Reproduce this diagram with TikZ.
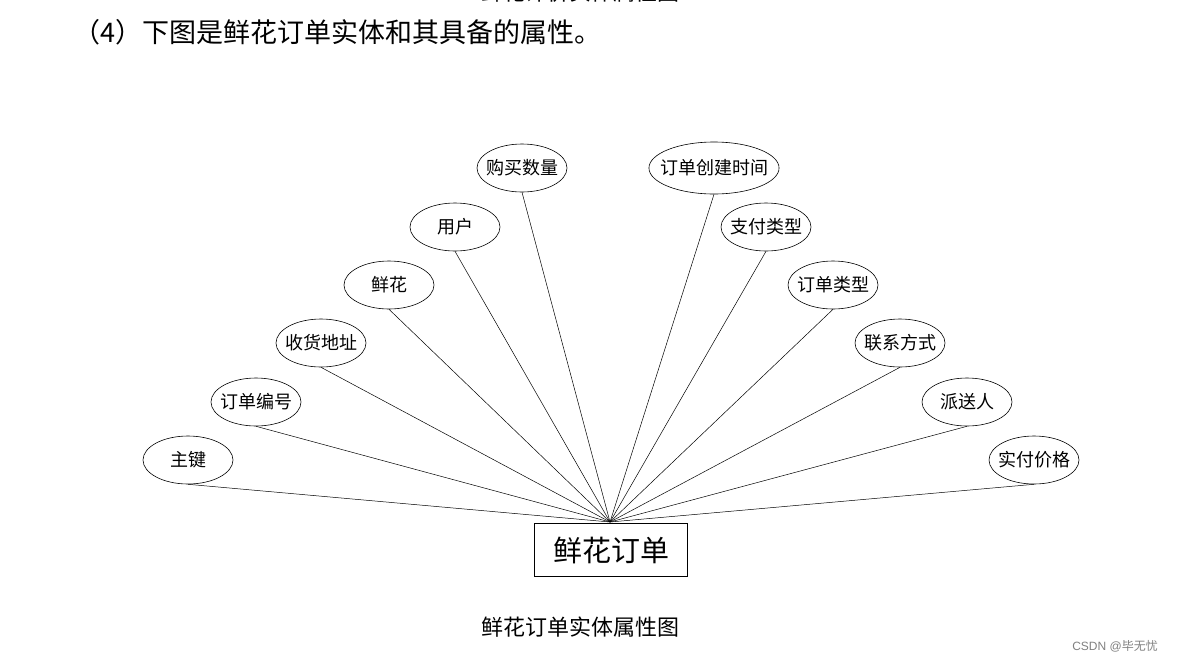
\documentclass[tikz,border=0pt]{standalone}
\usepackage{fontspec}
\newfontfamily\cjk{Noto Sans CJK SC}
\usetikzlibrary{shapes.geometric}
\begin{document}
\begin{tikzpicture}[x=1pt,y=-1pt,
  attr/.style={ellipse,draw,line width=0.6pt,minimum width=90pt,minimum height=48pt,inner xsep=-8pt,inner ysep=0pt,font=\cjk\fontsize{18}{18}\selectfont},
  link/.style={line width=0.5pt}]
\useasboundingbox (0,0) rectangle (1180,662);
\clip (0,0) rectangle (1180,662);
\node[font=\cjk\fontsize{22}{22}\selectfont] (top) at (580,-8) {鲜花评价实体属性图};
\node[anchor=west,font=\cjk\fontsize{27}{27}\selectfont] (title) at (70,32) {（4）下图是鲜花订单实体和其具备的属性。};
\node[draw,line width=0.6pt,minimum width=153pt,minimum height=53pt,font=\cjk\fontsize{29}{29}\selectfont] (e) at (611,550) {鲜花订单};
\coordinate (hub) at (610,522);
\node[attr] (a1) at (188,460) {主键};
\node[attr] (a2) at (256,402) {订单编号};
\node[attr] (a3) at (321,343) {收货地址};
\node[attr] (a4) at (389,285) {鲜花};
\node[attr] (a5) at (455,227) {用户};
\node[attr] (a6) at (522,168) {购买数量};
\node[attr,minimum width=115pt,minimum height=52pt] (a7) at (714,168) {订单创建时间};
\node[attr] (a8) at (766,227) {支付类型};
\node[attr] (a9) at (833,285) {订单类型};
\node[attr] (a10) at (900,343) {联系方式};
\node[attr] (a11) at (967,402) {派送人};
\node[attr] (a12) at (1034,460) {实付价格};
\foreach \i in {1,...,12} \draw[link] (a\i.south) -- (hub);
\node[font=\cjk\fontsize{22}{22}\selectfont] (cap) at (580,627) {鲜花订单实体属性图};
\node[font=\fontspec{Liberation Sans}\fontsize{12}{12}\selectfont,text=gray] (wm) at (1115,646) {CSDN @\cjk 毕无忧};
\end{tikzpicture}
\end{document}
